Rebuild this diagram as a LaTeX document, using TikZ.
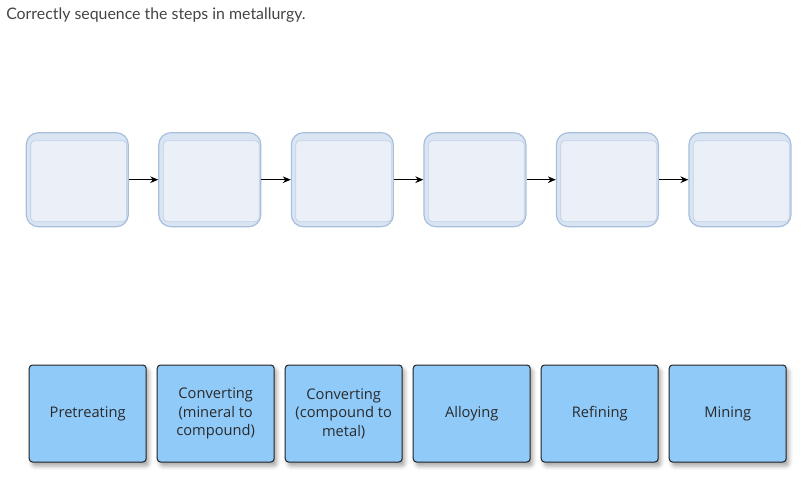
\documentclass[tikz,border=0pt]{standalone}
\usepackage{fontspec}
\setmainfont{Open Sans}
\newfontfamily\titlefont{Lato}
\usetikzlibrary{positioning,arrows.meta,shadows.blur}
\definecolor{slotedge}{HTML}{A7BFDC}
\definecolor{slotfill}{HTML}{DAE5F3}
\definecolor{slotinner}{HTML}{EBF0F8}
\definecolor{slotinneredge}{HTML}{C3D2E6}
\definecolor{cardfill}{HTML}{90CAF9}
\definecolor{cardedge}{HTML}{222222}
\definecolor{inktext}{HTML}{2A2A2A}
\definecolor{titletext}{HTML}{444444}

\begin{document}
\begin{tikzpicture}[x=0.75pt, y=-0.75pt,
                    node distance=22pt,
                    every node/.style={inner sep=0pt},
                    slot/.style={rectangle, rounded corners=9pt, draw=slotedge, line width=0.9pt,
                                 fill=slotfill, minimum width=76.5pt, minimum height=70.5pt},
                    slotface/.style={rectangle, rounded corners=3pt, draw=slotinneredge, line width=0.6pt,
                                     fill=slotinner, minimum width=72pt, minimum height=60.75pt},
                    card/.style={rectangle, rounded corners=2.5pt, draw=cardedge, line width=0.75pt,
                                 fill=cardfill, minimum width=87.75pt, minimum height=72.75pt,
                                 align=center, text=inktext, font=\fontsize{11}{14}\selectfont,
                                 blur shadow={shadow xshift=2pt, shadow yshift=-3pt,
                                              shadow blur radius=3pt, shadow opacity=35}},
                    link/.style={-{Stealth[length=6pt,width=5pt]}, line width=0.75pt, black}]
  \useasboundingbox (0,0) rectangle (805,488);
  % question
  \node[anchor=base west, text=titletext, font=\titlefont\fontsize{11.9}{14}\selectfont]
    (title) at (6,20) {Correctly sequence the steps in metallurgy.};
  % answer slots
  \node[slot](s1) at (77.3,179.7) {};
  \node[slot](s2) [right=of s1] {};
  \node[slot](s3) [right=of s2] {};
  \node[slot](s4) [right=of s3] {};
  \node[slot](s5) [right=of s4] {};
  \node[slot](s6) [right=of s5] {};
  \node[slotface](f1) at ([xshift=1pt, yshift=-1.1pt]s1.center) {};
  \node[slotface](f2) at ([xshift=1pt, yshift=-1.1pt]s2.center) {};
  \node[slotface](f3) at ([xshift=1pt, yshift=-1.1pt]s3.center) {};
  \node[slotface](f4) at ([xshift=1pt, yshift=-1.1pt]s4.center) {};
  \node[slotface](f5) at ([xshift=1pt, yshift=-1.1pt]s5.center) {};
  \node[slotface](f6) at ([xshift=1pt, yshift=-1.1pt]s6.center) {};
  \draw[link] (s1) -- (s2);
  \draw[link] (s2) -- (s3);
  \draw[link] (s3) -- (s4);
  \draw[link] (s4) -- (s5);
  \draw[link] (s5) -- (s6);
  % step cards
  \node[card](c1) at (87.7,413.5) {Pretreating};
  \node[card](c2) [right=7.5pt of c1] {Converting\\(mineral to\\compound)};
  \node[card](c3) [right=7.5pt of c2] {Converting\\(compound to\\metal)};
  \node[card](c4) [right=7.5pt of c3] {Alloying};
  \node[card](c5) [right=7.5pt of c4] {Refining};
  \node[card](c6) [right=7.5pt of c5] {Mining};
\end{tikzpicture}
\end{document}
